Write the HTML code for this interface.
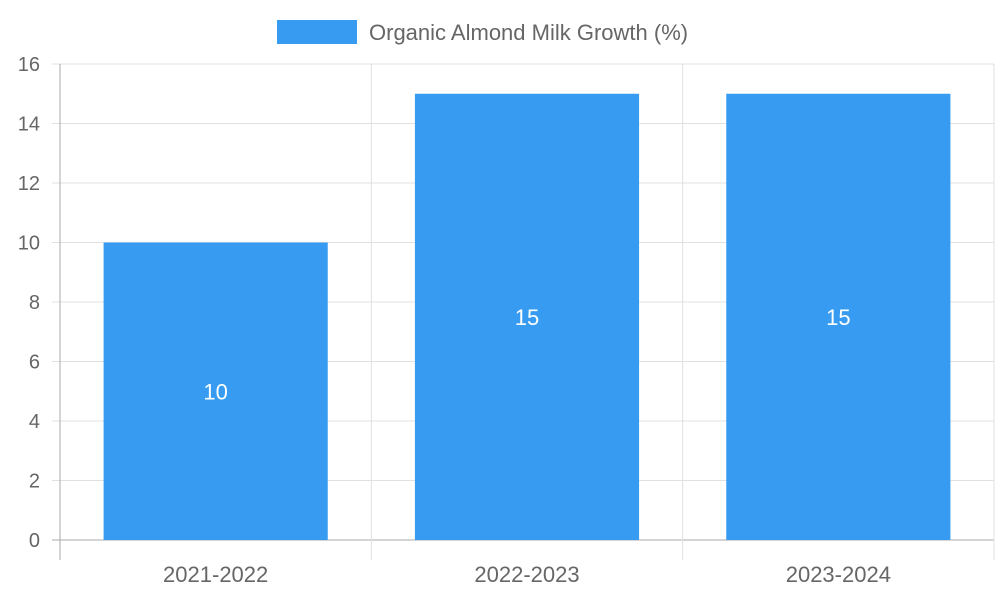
<!DOCTYPE html>
<html><head><meta charset="utf-8"><style>body{margin:0;background:#fff}svg{display:block;font-family:"Liberation Sans",sans-serif}</style></head>
<body>
<svg id="c" width="1000" height="600"></svg>
<script>
const categories=["2021-2022","2022-2023","2023-2024"];
const values=[10,15,15];
const yTicks=[0,2,4,6,8,10,12,14,16];
const seriesName="Organic Almond Milk Growth (%)";
const svg=document.getElementById('c');const NS="http://www.w3.org/2000/svg";
const L=60,R=994,T=64,B=540,yMax=16;
const y=v=>B-(v/yMax)*(B-T);
const bw=(R-L)/categories.length;
const x=i=>L+bw*i;
function el(t,a,txt,p){const e=document.createElementNS(NS,t);for(const k in a)e.setAttribute(k,a[k]);if(txt!=null)e.textContent=txt;(p||svg).appendChild(e);return e;}
const grid=el('g',{});


yTicks.forEach(t=>{
 el('line',{x1:L-8,x2:R,y1:y(t),y2:y(t),stroke:t===0?'#aaa':'#e0e0e0','stroke-width':1},null,grid);
 const lb=el('text',{x:L-20,y:y(t)+7,'text-anchor':'end','font-size':20,fill:'#666'},t);
 
 
});
for(let i=0;i<=categories.length;i++){
 el('line',{x1:x(i),x2:x(i),y1:T,y2:B+20,stroke:i===0?'#aaa':'#e0e0e0','stroke-width':1},null,grid);
}
categories.forEach((c,i)=>{
 const bx=x(i)+bw*0.14,w=bw*0.72;
 const r=el('rect',{x:bx,y:y(values[i]),width:w,height:B-y(values[i]),fill:'#379cf1'});
 
 
 const v=el('text',{x:x(i)+bw/2,y:(y(values[i])+B)/2+8,'text-anchor':'middle','font-size':22,fill:'#fff'},values[i]);
 
 
 const lb=el('text',{x:x(i)+bw/2,y:582,'text-anchor':'middle','font-size':22,fill:'#666'},c);
 
 
});
const lg=el('g',{});


el('rect',{x:277,y:20,width:80,height:24,fill:'#379cf1'},null,lg);
el('text',{x:369,y:40,'font-size':22,fill:'#666'},seriesName,lg);
</script>
</body></html>
